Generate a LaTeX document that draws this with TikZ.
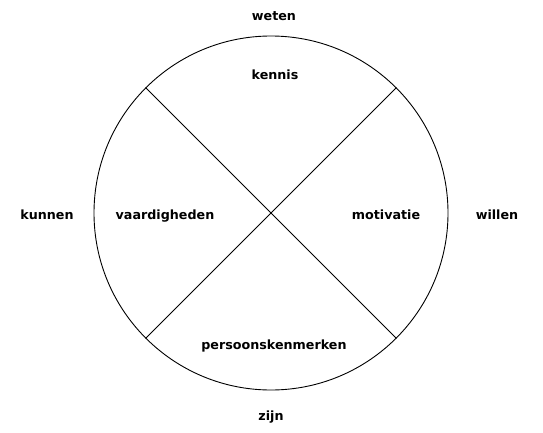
\documentclass[tikz,border=0pt]{standalone}
\usepackage{fontspec}
\setmainfont{DejaVu Sans}
\usetikzlibrary{positioning,calc}
\tikzset{
  wheel/.style={circle,draw=black,line width=0.9pt,minimum size=354pt,inner sep=0pt},
  split/.style={draw=black,line width=0.8pt},
  lbl/.style={font=\bfseries\fontsize{12.7}{14}\selectfont,inner sep=0pt,
    text height=9.4pt,text depth=2.6pt},
}

\begin{document}
\begin{tikzpicture}[x=1pt,y=-1pt]
\useasboundingbox (0,0) rectangle (543,433);
\node[wheel] (W) at (271,213) {};
\draw[split] (W.135) -- (W.-45);
\draw[split] (W.45) -- (W.-135);
% inner labels
\node[lbl] (kennis) at (275,76) {kennis};
\node[lbl] (vaard) at (165,216) {vaardigheden};
\node[lbl] (motiv) at (386,216) {motivatie};
\node[lbl] (pers) at (274,346) {persoonskenmerken};
% outer labels
\node[lbl] (weten) at (274,17) {weten};
\node[lbl] (kunnen) at (47,216) {kunnen};
\node[lbl] (willen) at (497,216) {willen};
\node[lbl] (zijn) at (271,417) {zijn};
\end{tikzpicture}
\end{document}
